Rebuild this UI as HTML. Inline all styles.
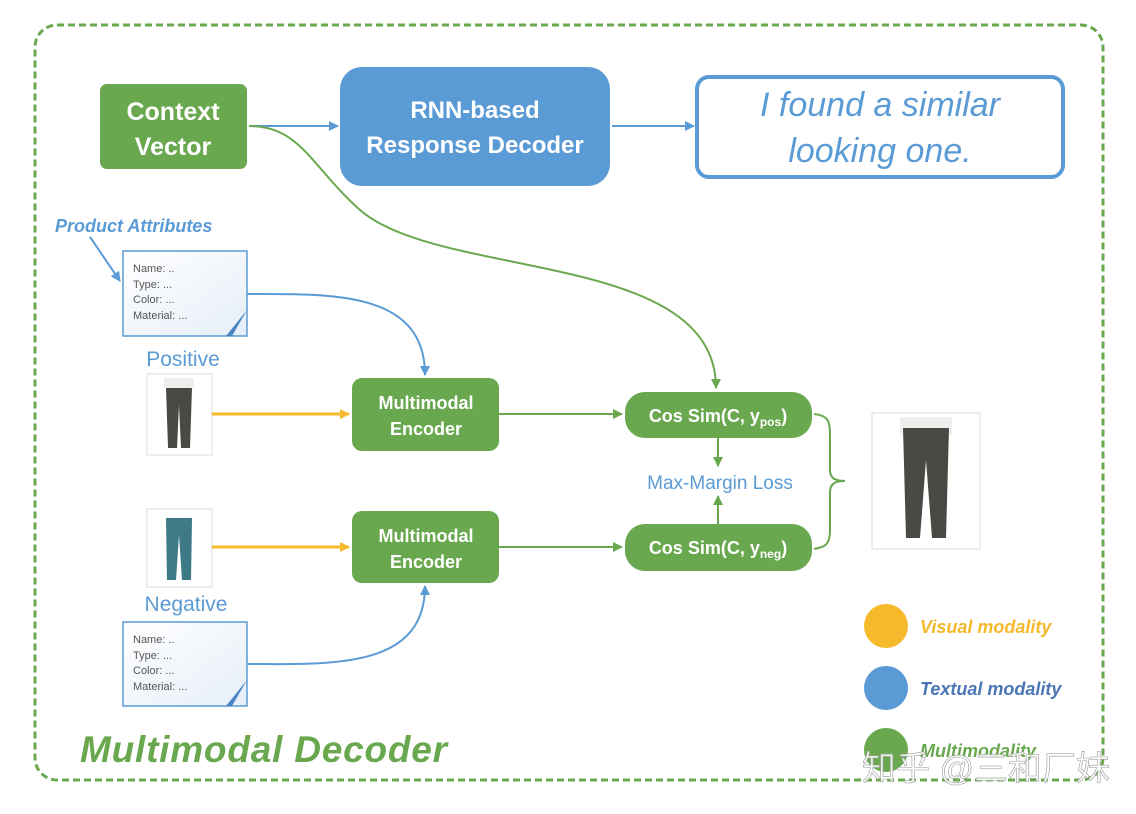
<!DOCTYPE html>
<html><head><meta charset="utf-8"><style>
html,body{margin:0;padding:0;background:#fff;}
svg{display:block;}
text{font-family:"Liberation Sans","Noto Sans CJK SC",sans-serif;}
</style></head><body>
<svg width="1136" height="814" viewBox="0 0 1136 814" xmlns="http://www.w3.org/2000/svg">
<defs>
<marker id="ab" markerWidth="10" markerHeight="10" refX="9" refY="5" orient="auto" markerUnits="userSpaceOnUse"><path d="M0,0 L10,5 L0,10 z" fill="#5b9bd5"/></marker>
<marker id="ag" markerWidth="10" markerHeight="10" refX="9" refY="5" orient="auto" markerUnits="userSpaceOnUse"><path d="M0,0 L10,5 L0,10 z" fill="#6aa84f"/></marker>
<marker id="ay" markerWidth="10" markerHeight="10" refX="9" refY="5" orient="auto" markerUnits="userSpaceOnUse"><path d="M0,0 L10,5 L0,10 z" fill="#f6b92b"/></marker>
<linearGradient id="doc" x1="0" y1="0" x2="1" y2="1"><stop offset="0" stop-color="#fff"/><stop offset="1" stop-color="#e6eef8"/></linearGradient>
</defs>
<rect x="35" y="25" width="1068" height="755" rx="22" fill="none" stroke="#6aa84f" stroke-width="3" stroke-dasharray="7,4"/>

<rect x="100" y="84" width="147" height="85" rx="7" fill="#6aa84f"/>
<text x="173" y="120" text-anchor="middle" fill="#fff" font-size="25" font-weight="bold">Context</text>
<text x="173" y="155" text-anchor="middle" fill="#fff" font-size="25" font-weight="bold">Vector</text>

<rect x="340" y="67" width="270" height="119" rx="22" fill="#5b9bd5"/>
<text x="475" y="118" text-anchor="middle" fill="#fff" font-size="24" font-weight="bold">RNN-based</text>
<text x="475" y="153" text-anchor="middle" fill="#fff" font-size="24" font-weight="bold">Response Decoder</text>

<rect x="697" y="77" width="366" height="100" rx="12" fill="#fff" stroke="#5b9bd5" stroke-width="4"/>
<text x="880" y="116" text-anchor="middle" fill="#5b9bd5" font-size="34" font-style="italic">I found a similar</text>
<text x="880" y="162" text-anchor="middle" fill="#5b9bd5" font-size="34" font-style="italic">looking one.</text>

<line x1="249" y1="126" x2="338" y2="126" stroke="#5b9bd5" stroke-width="2" marker-end="url(#ab)"/>
<line x1="612" y1="126" x2="694" y2="126" stroke="#5b9bd5" stroke-width="2" marker-end="url(#ab)"/>
<path d="M249,126 C300,126 310,165 360,210 C440,280 716,250 716,388" fill="none" stroke="#6aa84f" stroke-width="2" marker-end="url(#ag)"/>

<text x="55" y="232" fill="#5b9bd5" font-size="18" font-weight="bold" font-style="italic">Product Attributes</text>
<line x1="90" y1="237" x2="120" y2="281" stroke="#5b9bd5" stroke-width="2" marker-end="url(#ab)"/>

<g>
<rect x="123" y="251" width="124" height="85" fill="url(#doc)" stroke="#5b9bd5" stroke-width="1.5"/>
<path d="M247,310 L232,336 L226,336 Z" fill="#4a86c5"/>
<text fill="#555" font-size="11"><tspan x="133" y="272">Name: ..</tspan><tspan x="133" y="288">Type: ...</tspan><tspan x="133" y="303">Color: ...</tspan><tspan x="133" y="319">Material: ...</tspan></text>
</g>
<g>
<rect x="123" y="622" width="124" height="84" fill="url(#doc)" stroke="#5b9bd5" stroke-width="1.5"/>
<path d="M247,680 L232,706 L226,706 Z" fill="#4a86c5"/>
<text fill="#555" font-size="11"><tspan x="133" y="643">Name: ..</tspan><tspan x="133" y="659">Type: ...</tspan><tspan x="133" y="674">Color: ...</tspan><tspan x="133" y="690">Material: ...</tspan></text>
</g>

<path d="M247,294 C330,294 425,290 425,375" fill="none" stroke="#5b9bd5" stroke-width="2" marker-end="url(#ab)"/>
<path d="M247,664 C330,664 425,670 425,586" fill="none" stroke="#5b9bd5" stroke-width="2" marker-end="url(#ab)"/>

<text x="183" y="366" text-anchor="middle" fill="#5b9bd5" font-size="21">Positive</text>
<text x="186" y="611" text-anchor="middle" fill="#5b9bd5" font-size="21">Negative</text>

<rect x="147" y="374" width="65" height="81" fill="#fff" stroke="#ddd"/>
<rect x="164" y="378" width="30" height="10" fill="#eee"/>
<path d="M166,388 L192,388 L190,448 L181,448 L179,405 L177,448 L168,448 Z" fill="#4a4a45"/>
<rect x="147" y="509" width="65" height="78" fill="#fff" stroke="#ddd"/>
<path d="M166,518 L192,518 L191,580 L182,580 L179,535 L176,580 L167,580 Z" fill="#3d7a85"/>

<line x1="212" y1="414" x2="349" y2="414" stroke="#f6b92b" stroke-width="3" marker-end="url(#ay)"/>
<line x1="212" y1="547" x2="349" y2="547" stroke="#f6b92b" stroke-width="3" marker-end="url(#ay)"/>

<rect x="352" y="378" width="147" height="73" rx="10" fill="#6aa84f"/>
<text x="426" y="409" text-anchor="middle" fill="#fff" font-size="18" font-weight="bold">Multimodal</text>
<text x="426" y="435" text-anchor="middle" fill="#fff" font-size="18" font-weight="bold">Encoder</text>
<rect x="352" y="511" width="147" height="72" rx="10" fill="#6aa84f"/>
<text x="426" y="542" text-anchor="middle" fill="#fff" font-size="18" font-weight="bold">Multimodal</text>
<text x="426" y="568" text-anchor="middle" fill="#fff" font-size="18" font-weight="bold">Encoder</text>

<line x1="499" y1="414" x2="622" y2="414" stroke="#6aa84f" stroke-width="2" marker-end="url(#ag)"/>
<line x1="499" y1="547" x2="622" y2="547" stroke="#6aa84f" stroke-width="2" marker-end="url(#ag)"/>

<rect x="625" y="392" width="187" height="46" rx="20" fill="#6aa84f"/>
<text x="718" y="422" text-anchor="middle" fill="#fff" font-size="18" font-weight="bold">Cos Sim(C, y<tspan font-size="12" dy="4">pos</tspan><tspan dy="-4">)</tspan></text>
<rect x="625" y="524" width="187" height="47" rx="20" fill="#6aa84f"/>
<text x="718" y="554" text-anchor="middle" fill="#fff" font-size="18" font-weight="bold">Cos Sim(C, y<tspan font-size="12" dy="4">neg</tspan><tspan dy="-4">)</tspan></text>

<line x1="718" y1="438" x2="718" y2="466" stroke="#6aa84f" stroke-width="2" marker-end="url(#ag)"/>
<line x1="718" y1="524" x2="718" y2="496" stroke="#6aa84f" stroke-width="2" marker-end="url(#ag)"/>
<text x="720" y="489" text-anchor="middle" fill="#5b9bd5" font-size="19">Max-Margin Loss</text>

<path d="M814,414 C830,416 830,422 830,440 L830,470 C830,478 835,481 845,481 C835,481 830,484 830,492 L830,530 C830,545 825,547 814,549" fill="none" stroke="#6aa84f" stroke-width="2"/>

<rect x="872" y="413" width="108" height="136" fill="#fff" stroke="#ddd"/>
<rect x="900" y="417" width="52" height="18" fill="#eee"/>
<path d="M903,428 L949,428 L946,538 L932,538 L926,460 L920,538 L906,538 Z" fill="#4a4a45"/>

<circle cx="886" cy="626" r="22" fill="#f6b92b"/>
<circle cx="886" cy="688" r="22" fill="#5b9bd5"/>
<circle cx="886" cy="750" r="22" fill="#6aa84f"/>
<text x="920" y="633" fill="#f6b92b" font-size="18" font-weight="bold" font-style="italic">Visual modality</text>
<text x="920" y="695" fill="#4a76b5" font-size="18" font-weight="bold" font-style="italic">Textual modality</text>
<text x="920" y="757" fill="#6aa84f" font-size="18" font-weight="bold" font-style="italic">Multimodality</text>

<text x="80" y="762" fill="#6aa84f" font-size="37" font-weight="bold" font-style="italic" textLength="367">Multimodal Decoder</text>

<text x="862" y="780" fill="#fff" fill-opacity="0.85" stroke="#999" stroke-width="0.6" font-size="34">知乎 @三和厂妹</text>
</svg>
</body></html>
